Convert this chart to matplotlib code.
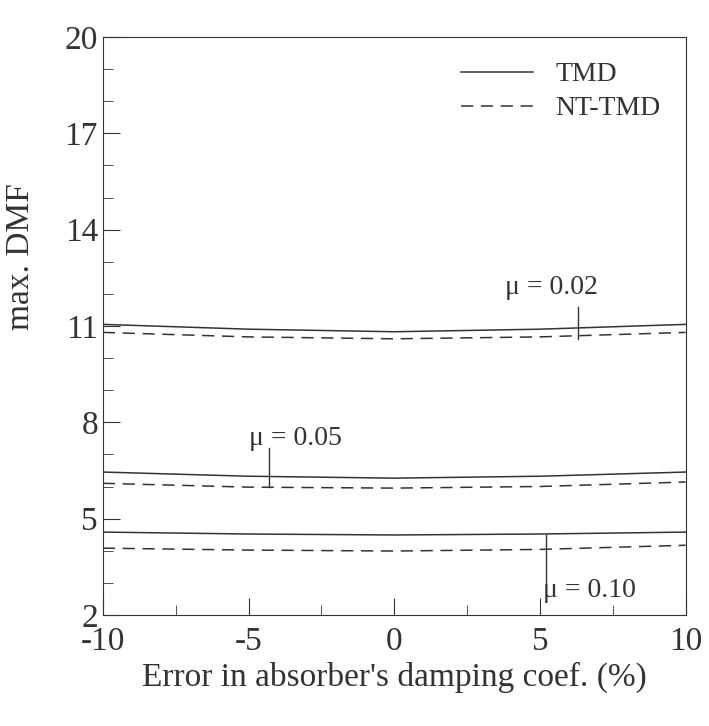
import matplotlib
matplotlib.use("Agg")
import matplotlib.pyplot as plt
from matplotlib.ticker import MultipleLocator, FixedLocator

x = [-10, -5, 0, 5, 10]
tmd_002 = [11.05, 10.9, 10.82, 10.9, 11.05]
nt_002 = [10.8, 10.66, 10.6, 10.66, 10.8]
tmd_005 = [6.45, 6.32, 6.26, 6.32, 6.45]
nt_005 = [6.1, 5.98, 5.95, 6.0, 6.14]
tmd_010 = [4.58, 4.52, 4.49, 4.52, 4.58]
nt_010 = [4.08, 4.02, 3.99, 4.04, 4.17]
yticks = [2, 5, 8, 11, 14, 17, 20]

plt.rcParams['font.family'] = ['Liberation Serif']
plt.rcParams['axes.unicode_minus'] = False
c = '#333333'
fig = plt.figure(figsize=(7.09, 7.26), dpi=100)
ax = fig.add_axes([0.145, 0.153, 0.822, 0.796])
ax.plot(x, tmd_002, '-', color=c, lw=1.1, label='TMD')
ax.plot(x, nt_002, '--', color=c, lw=1.1, dashes=(8, 5), label='NT-TMD')
ax.plot(x, tmd_005, '-', color=c, lw=1.1)
ax.plot(x, nt_005, '--', color=c, lw=1.1, dashes=(8, 5))
ax.plot(x, tmd_010, '-', color=c, lw=1.1)
ax.plot(x, nt_010, '--', color=c, lw=1.1, dashes=(8, 5))
ax.set_xlim(-10, 10)
ax.set_ylim(2, 20)
ax.xaxis.set_major_locator(MultipleLocator(5))
ax.xaxis.set_minor_locator(MultipleLocator(2.5))
ax.yaxis.set_major_locator(FixedLocator(yticks))
ax.yaxis.set_minor_locator(MultipleLocator(1))
ax.tick_params(which='both', direction='in', labelsize=24, colors=c)
ax.tick_params(which='major', length=12)
ax.tick_params(which='minor', length=7)
ax.tick_params(axis='x', pad=8)
for s in ax.spines.values():
    s.set_color(c)
ax.set_xlabel("Error in absorber's damping coef. (%)", fontsize=24, color=c, labelpad=4)
ax.set_ylabel("max. DMF", fontsize=24, color=c, labelpad=2)
ax.yaxis.set_label_coords(-0.115, 0.62)
ax.legend(loc='upper right', frameon=False, fontsize=20, handlelength=2.6, labelcolor=c,
          bbox_to_anchor=(1.0, 1.0), labelspacing=0.3)
ax.annotate('μ = 0.02', xy=(6.3, 10.6), xytext=(3.8, 12.0), fontsize=20, color=c)
ax.plot([6.3, 6.3], [10.6, 11.6], color=c, lw=1)
ax.annotate('μ = 0.05', xy=(-4.3, 6.0), xytext=(-5.0, 7.3), fontsize=20, color=c)
ax.plot([-4.3, -4.3], [6.0, 7.2], color=c, lw=1)
ax.annotate('μ = 0.10', xy=(5.2, 4.5), xytext=(5.1, 2.55), fontsize=20, color=c)
ax.plot([5.2, 5.2], [3.0, 4.5], color=c, lw=1)
fig.savefig('out.png', dpi=100)
